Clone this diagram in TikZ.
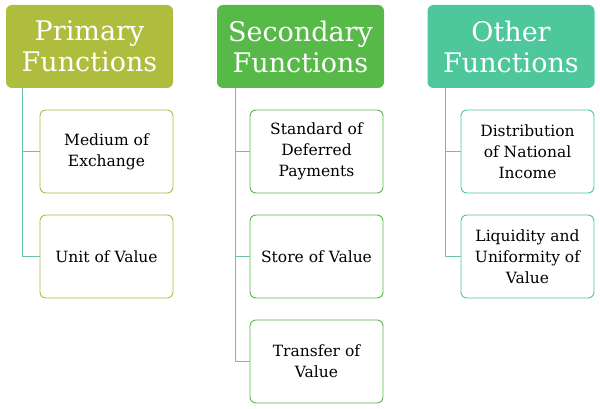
\documentclass[tikz,border=0pt]{standalone}
\usepackage{fontspec}
\setmainfont{DejaVu Serif}
\definecolor{cA}{HTML}{AFBD3F}
\definecolor{cB}{HTML}{57B947}
\definecolor{cC}{HTML}{4DC79B}
\definecolor{ln}{HTML}{6CC0B0}
\begin{document}
\begin{tikzpicture}[x=1pt,y=-1pt,
  head/.style={rounded corners=6pt,minimum width=167pt,minimum height=83pt,text=white,align=center,font=\fontsize{27}{31}\selectfont,inner sep=0pt},
  child/.style={draw,line width=0.9pt,rounded corners=6pt,fill=white,minimum width=133pt,minimum height=83pt,align=center,font=\fontsize{15.5}{21}\selectfont,inner sep=0pt},
  conn/.style={draw=ln,line width=1pt}]
\useasboundingbox (0,0) rectangle (600,409);
\node[head,fill=cA] (h1) at (89.5,46.5) {Primary\\Functions};
\node[head,fill=cB] (h2) at (300.5,46.5) {Secondary\\Functions};
\node[head,fill=cC] (h3) at (511,46.5) {Other\\Functions};
\node[child,draw=cA] (a1) at (106.5,151.5) {Medium of\\Exchange};
\node[child,draw=cA] (a2) at (106.5,256.5) {Unit of Value};
\node[child,draw=cB] (b1) at (316.5,151.5) {Standard of\\Deferred\\Payments};
\node[child,draw=cB] (b2) at (316.5,256.5) {Store of Value};
\node[child,draw=cB] (b3) at (316.5,361.5) {Transfer of\\Value};
\node[child,draw=cC] (c1) at (527.5,151.5) {Distribution\\of National\\Income};
\node[child,draw=cC] (c2) at (527.5,256.5) {Liquidity and\\Uniformity of\\Value};
\coordinate (p1) at (22,0); \coordinate (p2) at (235,0); \coordinate (p3) at (445,0);
\draw[conn] (p1 |- h1.south) -- (p1 |- a2.west) -- (a2.west);
\draw[conn] (p1 |- a1.west) -- (a1.west);
\draw[conn] (p2 |- h2.south) -- (p2 |- b3.west) -- (b3.west);
\draw[conn] (p2 |- b1.west) -- (b1.west);
\draw[conn] (p2 |- b2.west) -- (b2.west);
\draw[conn] (p3 |- h3.south) -- (p3 |- c2.west) -- (c2.west);
\draw[conn] (p3 |- c1.west) -- (c1.west);
\end{tikzpicture}
\end{document}
